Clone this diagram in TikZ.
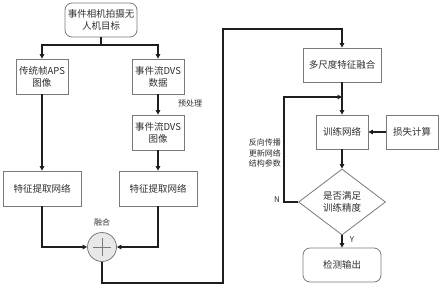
\documentclass[tikz,border=0pt]{standalone}
\usepackage{fontspec}
\setmainfont{Noto Sans CJK SC}
\usetikzlibrary{shapes.geometric,arrows.meta}
\definecolor{boxline}{HTML}{7A7A7A}
\definecolor{txt}{HTML}{303030}
\definecolor{conn}{HTML}{1E1E1E}
\begin{document}
\begin{tikzpicture}[x=1pt,y=-1pt,
  box/.style={draw=boxline,line width=0.8pt,fill=white,inner sep=0pt,align=center,
    text=txt,font=\fontsize{9.5}{12}\selectfont},
  rbox/.style={box,rounded corners=7pt},
  lbl/.style={text=txt,font=\fontsize{8}{10}\selectfont,inner sep=0pt},
  arr/.style={draw=conn,line width=1.5pt,-{Triangle[length=4.5pt,width=4.5pt]}},
  ln/.style={draw=conn,line width=1.5pt}]
\useasboundingbox (0,0) rectangle (443,287);
\node[rbox,minimum width=72pt,minimum height=34pt] (top) at (101,20) {事件相机拍摄无\\人机目标};
\node[box,minimum width=52pt,minimum height=35pt] (aps) at (42,76.5) {传统帧APS\\图像};
\node[box,minimum width=52pt,minimum height=35pt] (dvs) at (158,76.5) {事件流DVS\\数据};
\node[box,minimum width=52pt,minimum height=35pt] (dvsimg) at (158,132.5) {事件流DVS\\图像};
\node[box,minimum width=78pt,minimum height=35pt] (f1) at (42,188.5) {特征提取网络};
\node[box,minimum width=78pt,minimum height=35pt] (f2) at (158,188.5) {特征提取网络};
\node[circle,draw=boxline,line width=0.8pt,fill=gray!18,minimum size=29pt,inner sep=0pt] (sum) at (102,247) {};
\draw[boxline,line width=0.9pt] (sum.center) ++(-9,0) -- ++(18,0) (sum.center) ++(0,-9) -- ++(0,18);
\node[lbl] (fuse) at (102,222) {融合};
\node[lbl] (pre) at (190,103) {预处理};
\node[box,minimum width=78pt,minimum height=34pt] (msf) at (342,65) {多尺度特征融合};
\node[box,minimum width=52pt,minimum height=34pt] (train) at (342,132) {训练网络};
\node[box,minimum width=52pt,minimum height=34pt] (loss) at (412,132) {损失计算};
\node[diamond,aspect=1.3,draw=boxline,line width=0.8pt,fill=white,inner sep=0pt,align=center,
  text=txt,font=\fontsize{9.5}{12}\selectfont,minimum width=87pt,minimum height=66pt] (dia) at (342,202) {是否满足\\训练精度};
\node[rbox,minimum width=78pt,minimum height=34pt] (out) at (342,265) {检测输出};
\node[lbl,align=right,anchor=east,font=\fontsize{8}{10.5}\selectfont] (bp) at (281,153) {反向传播\\更新网络\\结构参数};
\node[lbl] (nl) at (277,200) {N};
\node[lbl] (yl) at (352,240) {Y};
% connectors
\coordinate (split) at (101,45);
\draw[ln] (top) -- (split);
\draw[arr] (split) -| (aps);
\draw[arr] (split) -| (dvs);
\draw[arr] (dvs) -- (dvsimg);
\draw[arr] (aps) -- (f1);
\draw[arr] (dvsimg) -- (f2);
\draw[arr] (f1) |- (sum);
\draw[arr] (f2) |- (sum);
\coordinate (la) at (223,283);
\coordinate (lb) at (223,29);
\draw[arr] (sum) |- (la) -- (lb) -| (msf);
\draw[arr] (msf) -- (train);
\draw[arr] (loss) -- (train);
\draw[arr] (train) -- (dia);
\draw[arr] (dia) -- (out);
\coordinate (fbl) at (284,202);
\coordinate (fbt) at (342,97);
\draw[arr] (dia.west) -- (fbl) |- (fbt);
\end{tikzpicture}
\end{document}
